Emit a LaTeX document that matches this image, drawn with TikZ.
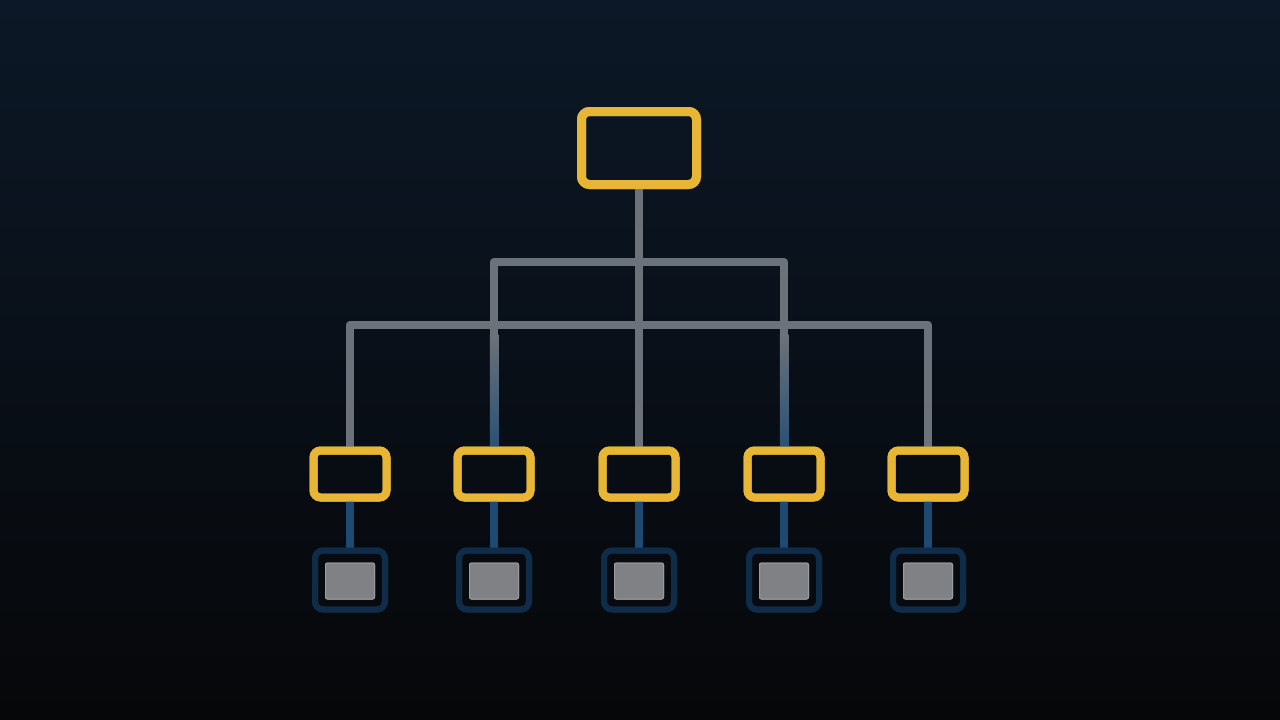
\documentclass[tikz,border=0pt]{standalone}
\usetikzlibrary{calc}
\definecolor{bgtop}{HTML}{0C1827}
\definecolor{bgmid}{HTML}{09111A}
\definecolor{bgbot}{HTML}{060709}
\definecolor{gold}{HTML}{E6B634}
\definecolor{linegray}{HTML}{6C7279}
\definecolor{linkblue}{HTML}{1C4A73}
\definecolor{leafedge}{HTML}{0F2C49}
\definecolor{leaffill}{HTML}{808185}
\definecolor{leafrim}{HTML}{9A9BA0}
\tikzset{
  rootbox/.style={draw=gold, line width=9pt, rounded corners=8pt, minimum width=115pt, minimum height=73pt, inner sep=0pt, outer sep=0pt},
  midbox/.style={draw=gold, line width=8pt, rounded corners=7pt, minimum width=73pt, minimum height=47pt, inner sep=0pt, outer sep=0pt},
  leafbox/.style={draw=leafedge, line width=6pt, rounded corners=8pt, minimum width=70pt, minimum height=59pt, inner sep=0pt, outer sep=0pt},
  leafcore/.style={fill=leaffill, draw=leafrim, line width=1pt, rounded corners=2pt, minimum width=49pt, minimum height=36pt, inner sep=0pt},
  grayline/.style={draw=linegray, line width=8.5pt, line join=round},
  blueline/.style={draw=linkblue, line width=8pt}
}
\begin{document}
\begin{tikzpicture}[x=1pt,y=-1pt]
\useasboundingbox (0,0) rectangle (1280,720);
\shade[top color=bgtop, middle color=bgmid, bottom color=bgbot] (0,0) rectangle (1280,720);

% nodes
\node[rootbox] (root) at (639,148) {};
\foreach \i/\x in {1/350,2/494,3/639,4/784,5/928}{
  \node[midbox] (m\i) at (\x,474) {};
  \node[leafbox] (b\i) at (\x,580) {};
  \node[leafcore] (c\i) at (\x,581) {};
}
\coordinate (upL) at (494,262);
\coordinate (upR) at (784,262);
\coordinate (loL) at (350,325);
\coordinate (loR) at (928,325);

% connectors
\draw[grayline] (root) -- (m3);
\draw[grayline] (m2) -- (upL) -- (upR) -- (m4);
\draw[grayline] (m1) -- (loL) -- (loR) -- (m5);
\shade[top color=linegray, bottom color=linkblue!85!linegray] ($(upL)+(-4.25,72)$) rectangle ($(m2.north)+(4.25,0)$);
\shade[top color=linegray, bottom color=linkblue!85!linegray] ($(upR)+(-4.25,72)$) rectangle ($(m4.north)+(4.25,0)$);
\foreach \i in {1,...,5}{
  \draw[blueline] (m\i) -- (b\i);
}
% redraw boxes on top
\node[rootbox] at (root) {};
\foreach \i in {1,...,5}{
  \node[midbox] at (m\i) {};
  \node[leafbox] at (b\i) {};
  \node[leafcore] at (c\i) {};
}
\end{tikzpicture}
\end{document}
